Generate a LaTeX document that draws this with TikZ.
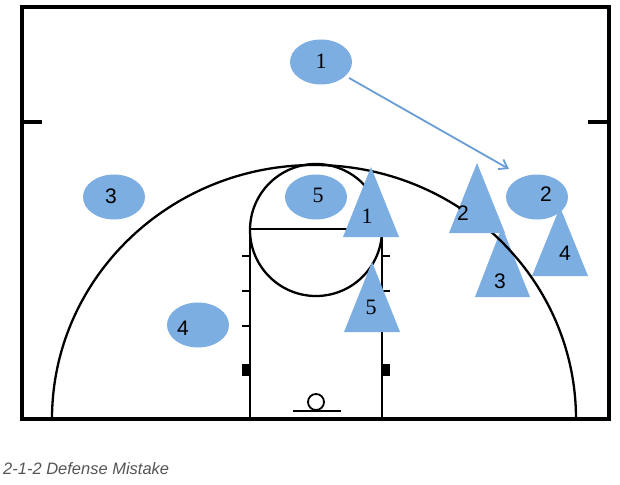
\documentclass[tikz,border=0pt]{standalone}
\usepackage{fontspec}
\setmainfont{Liberation Serif}
\newfontfamily\sansf{Liberation Sans}
\usetikzlibrary{shapes.geometric,arrows.meta}
\definecolor{plblue}{RGB}{124,174,226}
\definecolor{arrblue}{RGB}{104,158,212}
\definecolor{capgray}{RGB}{85,85,85}
\begin{document}
\begin{tikzpicture}[x=1pt,y=-1pt,
  court/.style={line width=2.3pt, black},
  outer/.style={line width=3.8pt, black},
  offense/.style={ellipse, fill=plblue, minimum width=62pt, minimum height=45pt, inner sep=0pt},
  defense/.style={fill=plblue},
  serifnum/.style={font=\fontsize{22}{22}\selectfont, inner sep=0pt},
  sansnum/.style={font=\sansf\fontsize{21}{21}\selectfont, inner sep=0pt},
  pass/.style={arrblue, line width=1.8pt, shorten <=4pt, -{Straight Barb[length=8pt,width=11pt]}}
]
\useasboundingbox (0,0) rectangle (620,484);
\fill[white] (0,0) rectangle (620,484);

% court
\draw[outer] (22,7) rectangle (609,419);
\draw[outer] (22,122) -- (42,122);
\draw[outer] (588,122) -- (609,122);
\draw[court] (250,419) -- (250,229) -- (382,229) -- (382,419);
\draw[court] (316,230) circle[radius=66];
\foreach \yy in {256,291,326} {
  \draw[court] (242,\yy) -- (250,\yy);
  \draw[court] (382,\yy) -- (390,\yy);
}
\fill (242,364) rectangle (250,376);
\fill (382,364) rectangle (390,376);
\draw[line width=1.8pt] (316,402) circle[radius=8];
\draw[line width=2.3pt] (293,411) -- (341,411);

% defender 3 lies under the arc
\fill[defense] (502,227) -- (475,297) -- (530,297) -- cycle;
\draw[court] (52,419) arc[start angle=180, end angle=360, x radius=262, y radius=254];

% defenders
\fill[defense] (371,167) -- (343,237) -- (399,237) -- cycle;
\fill[defense] (372,262) -- (344,332) -- (400,332) -- cycle;
\fill[defense] (477,163) -- (449,233) -- (505,233) -- cycle;
\fill[defense] (560,207) -- (532,276) -- (588,276) -- cycle;

% offense
\node[offense] (o1) at (321,62) {};
\node[offense] (o3) at (114,197) {};
\node[offense] (o5) at (316,197) {};
\node[offense] (o4) at (198,325) {};
\node[offense] (o2) at (537,197) {};

% labels
\node[serifnum] (lo1) at (321,61) {1};
\node[sansnum] (lo3) at (111,196) {3};
\node[serifnum] (lo5) at (318,195) {5};
\node[sansnum] (lo4) at (183,328) {4};
\node[sansnum] (lo2) at (546,194) {2};
\node[serifnum] (ld1) at (367,216) {1};
\node[serifnum] (ld5) at (371,307) {5};
\node[sansnum] (ld2) at (463,213) {2};
\node[sansnum] (ld3) at (500,281) {3};
\node[sansnum] (ld4) at (565,253) {4};

% pass
\coordinate (aend) at (509,169);
\draw[pass] (o1) -- (aend);

% caption
\node[anchor=base west, font=\sansf\itshape\fontsize{16.5}{16.5}\selectfont, text=capgray, inner sep=0pt] (cap) at (3,474) {2-1-2 Defense Mistake};
\end{tikzpicture}
\end{document}
